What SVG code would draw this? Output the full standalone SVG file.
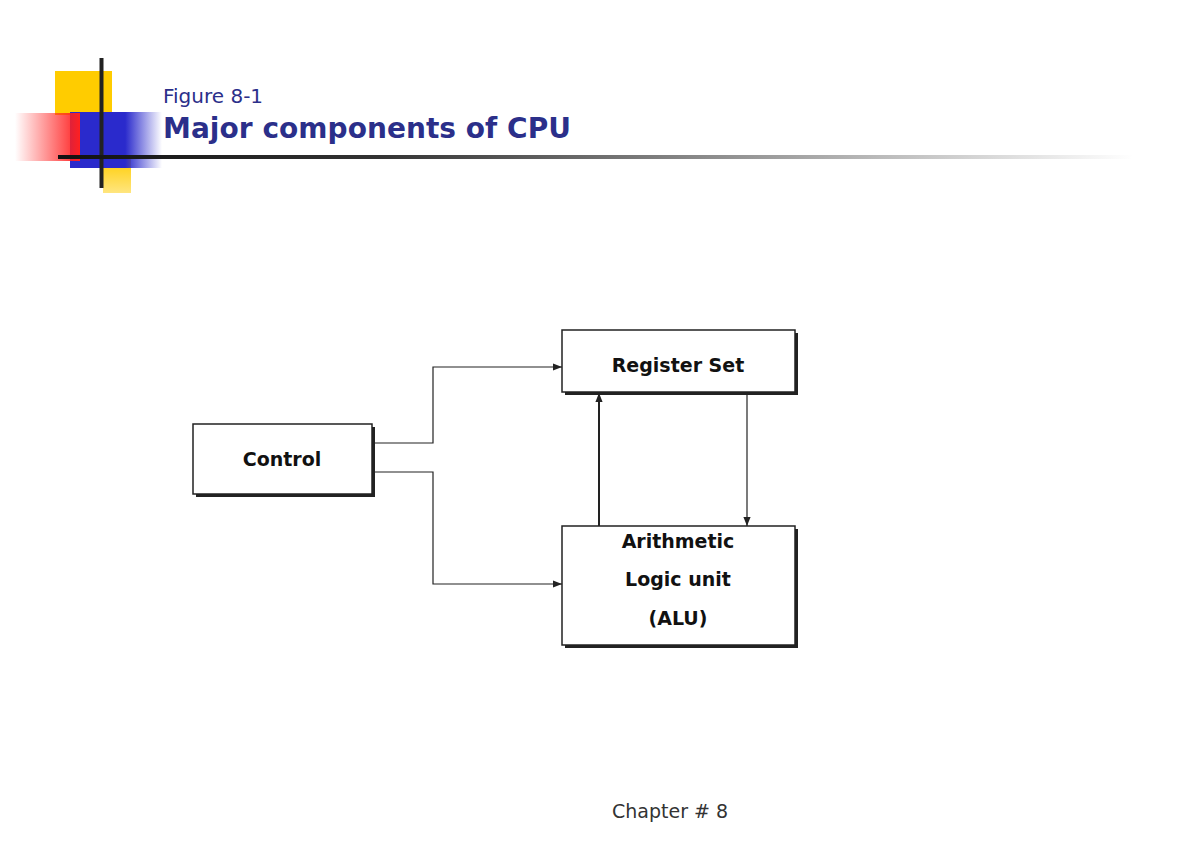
<svg xmlns="http://www.w3.org/2000/svg" width="1200" height="848" viewBox="0 0 1200 848">
<style>
.box{fill:#fff;stroke:#222;stroke-width:1.5}
.sh{fill:#222}
.lbl{font-family:"DejaVu Sans",sans-serif;font-weight:bold;font-size:19px;fill:#111;text-anchor:middle}
.con{fill:none;stroke:#222;stroke-width:1.2}
</style>
<defs>
<marker id="ah" viewBox="0 0 10 10" refX="10" refY="5" markerWidth="9" markerHeight="9" markerUnits="userSpaceOnUse" orient="auto"><path d="M0,1 L10,5 L0,9 z" fill="#222"/></marker>
<linearGradient id="red" x1="0" x2="1"><stop offset="0" stop-color="#ff2020" stop-opacity="0"/><stop offset="1" stop-color="#ff2020"/></linearGradient>
<linearGradient id="blue" x1="0" x2="1"><stop offset="0" stop-color="#2a2acc"/><stop offset="0.6" stop-color="#2a2acc"/><stop offset="1" stop-color="#2a2acc" stop-opacity="0"/></linearGradient>
<linearGradient id="yl" x1="0" x2="0" y1="0" y2="1"><stop offset="0" stop-color="#ffcc00"/><stop offset="1" stop-color="#ffcc00" stop-opacity="0.5"/></linearGradient>
<linearGradient id="hl" x1="0" x2="1"><stop offset="0" stop-color="#111"/><stop offset="0.3" stop-color="#333"/><stop offset="1" stop-color="#333" stop-opacity="0"/></linearGradient>
</defs>
<rect width="1200" height="848" fill="#fff"/>
<g id="header">
<rect x="55" y="71" width="57" height="44" fill="#ffcc00"/>
<rect x="103" y="158" width="28" height="35" fill="url(#yl)"/>
<rect x="70" y="112" width="92" height="56" fill="url(#blue)"/>
<rect x="15" y="113" width="65" height="48" fill="url(#red)"/>
<rect x="99.5" y="58" width="4" height="130" fill="#222"/>
<rect x="58" y="155" width="1075" height="4" fill="url(#hl)"/>
<text x="163" y="103" font-family="DejaVu Sans,sans-serif" font-size="20" fill="#2b2f8a">Figure 8-1</text>
<text x="163" y="138" font-family="DejaVu Sans,sans-serif" font-size="28" font-weight="bold" fill="#2b2f8a" textLength="408">Major components of CPU</text>
</g>
<g id="control"><rect class="sh" x="196" y="427" width="179" height="70"/><rect class="box" x="193" y="424" width="179" height="70"/><text class="lbl" x="282" y="466">Control</text></g>
<g id="register"><rect class="sh" x="565" y="333" width="233" height="62"/><rect class="box" x="562" y="330" width="233" height="62"/><text class="lbl" x="678" y="372">Register Set</text></g>
<g id="alu"><rect class="sh" x="565" y="529" width="233" height="119"/><rect class="box" x="562" y="526" width="233" height="119"/><text class="lbl" x="678" y="548">Arithmetic</text><text class="lbl" x="678" y="586">Logic unit</text><text class="lbl" x="678" y="625">(ALU)</text></g>
<g id="connectors">
<path class="con" d="M375,443 H433 V367 H562" marker-end="url(#ah)"/>
<path class="con" d="M375,472 H433 V584 H562" marker-end="url(#ah)"/>
<path class="con" style="stroke-width:2" d="M599,526 V393" marker-end="url(#ah)"/>
<path class="con" d="M747,395 V526" marker-end="url(#ah)"/>
</g>
<text x="612" y="818" font-family="DejaVu Sans,sans-serif" font-size="19" fill="#333">Chapter # 8</text>
</svg>
